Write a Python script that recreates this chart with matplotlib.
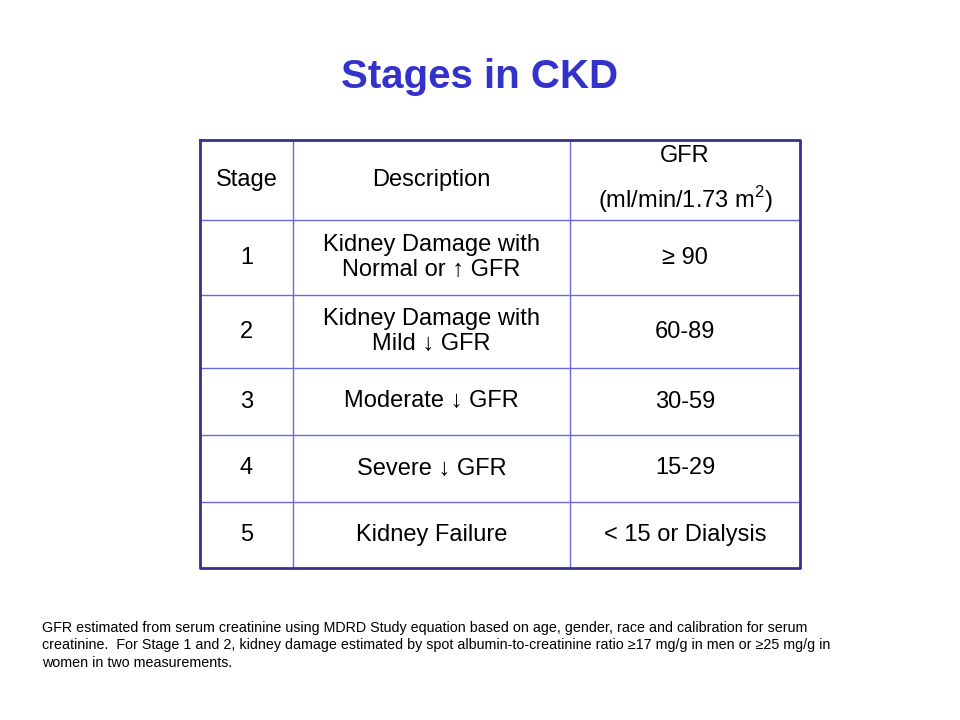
import matplotlib.pyplot as plt

plt.rcParams['font.family'] = 'Liberation Sans'
plt.rcParams['mathtext.fontset'] = 'custom'
plt.rcParams['mathtext.rm'] = 'Liberation Sans'

title = 'Stages in CKD'
header = ['Stage', 'Description', 'GFR\n(ml/min/1.73 m$^\\mathrm{2}$)']
stages = ['1', '2', '3', '4', '5']
descriptions = ['Kidney Damage with\nNormal or \u2191 GFR',
                'Kidney Damage with\nMild \u2193 GFR',
                'Moderate \u2193 GFR',
                'Severe \u2193 GFR',
                'Kidney Failure']
gfr = ['\u2265 90', '60-89', '30-59', '15-29', '< 15 or Dialysis']
footnote = ('GFR estimated from serum creatinine using MDRD Study equation based on age, gender, race and calibration for serum\n'
            'creatinine.  For Stage 1 and 2, kidney damage estimated by spot albumin-to-creatinine ratio \u226517 mg/g in men or \u226525 mg/g in\n'
            'women in two measurements.')

col_edges = [200, 293, 570, 800]
row_edges = [140, 220, 295, 368, 435, 502, 568]

fig = plt.figure(figsize=(9.6, 7.2), dpi=100)
ax = fig.add_axes([0, 0, 1, 1])
ax.set_xlim(0, 960)
ax.set_ylim(720, 0)
ax.axis('off')

ax.text(480, 77, title, ha='center', va='center', fontsize=29,
        fontweight='bold', color='#3333cc')

inner = '#6a6ad8'
outer = '#33338a'
for y in row_edges[1:-1]:
    ax.plot([col_edges[0], col_edges[-1]], [y, y], color=inner, lw=1)
for x in col_edges[1:-1]:
    ax.plot([x, x], [row_edges[0], row_edges[-1]], color=inner, lw=1)
ax.plot([col_edges[0], col_edges[-1], col_edges[-1], col_edges[0], col_edges[0]],
        [row_edges[0], row_edges[0], row_edges[-1], row_edges[-1], row_edges[0]],
        color=outer, lw=2)

rows = [header] + [[s, d, g] for s, d, g in zip(stages, descriptions, gfr)]
for i, row in enumerate(rows):
    yc = (row_edges[i] + row_edges[i + 1]) / 2
    for j, txt in enumerate(row):
        xc = (col_edges[j] + col_edges[j + 1]) / 2
        ax.text(xc, yc, txt, ha='center', va='center', fontsize=17,
                linespacing=1.75 if i == 0 else 1.15)

ax.text(42, 621, footnote, ha='left', va='top', fontsize=10.3, linespacing=1.3)

fig.savefig('out.png', dpi=100)
